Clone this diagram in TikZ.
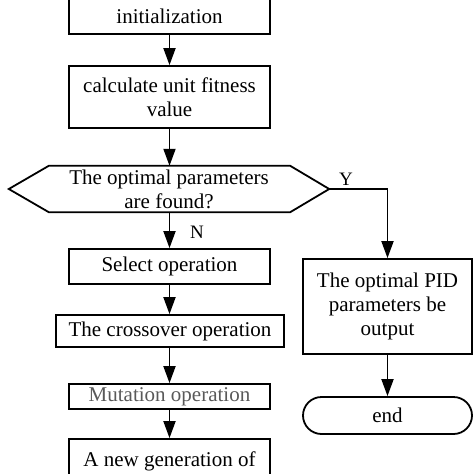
\documentclass[tikz,border=0pt]{standalone}
\usepackage{fontspec}
\setmainfont{Liberation Serif}
\usetikzlibrary{arrows.meta,shapes.misc,calc}
\begin{document}
\begin{tikzpicture}[x=1pt,y=-1pt,
  box/.style={draw,line width=1.8pt,rectangle,inner sep=0pt,align=center,
    font=\fontsize{21}{24}\selectfont},
  conn/.style={line width=1.8pt,-{Triangle[length=17pt,width=12pt]}},
  lbl/.style={font=\fontsize{19}{22}\selectfont,inner sep=0pt}]
\useasboundingbox (0,0) rectangle (474,474);
\clip (0,0) rectangle (474,474);
\node[box,minimum width=201pt,minimum height=62pt] (init) at (169.5,3) {\strut\\initialization};
\node[box,minimum width=201pt,minimum height=62pt] (calc) at (169.5,97) {calculate unit fitness\\value};
\node[inner sep=0pt,minimum width=320pt,minimum height=46pt,align=center,
  font=\fontsize{21}{24}\selectfont] (dec) at (169,189) {The optimal parameters\\are found?};
\draw[line width=1.8pt,line join=miter] (dec.west) -- ($(dec.north west)+(40,0)$) -- ($(dec.north east)+(-39,0)$)
  -- (dec.east) -- ($(dec.south east)+(-39,0)$) -- ($(dec.south west)+(40,0)$) -- cycle;
\node[box,minimum width=201pt,minimum height=35pt] (sel) at (169.5,266.5) {Select operation};
\node[box,minimum width=228pt,minimum height=32pt] (cross) at (170,331) {The crossover operation};
\node[box,minimum width=201pt,minimum height=25pt,text=black!65] (mut) at (169.5,396.5) {Mutation operation};
\node[box,minimum width=201pt,minimum height=72pt] (newgen) at (169.5,475) {A new generation of\\\strut};
\node[box,minimum width=169pt,minimum height=95pt] (pid) at (387.5,306.5) {The optimal PID\\parameters be\\output};
\node[box,rounded rectangle,minimum width=169pt,minimum height=37pt] (end) at (387.5,415.5) {end};
\coordinate (corner) at (387.5,189);
\node[lbl] (ylab) at (346,179) {Y};
\node[lbl] (nlab) at (197,232) {N};
\draw[conn] (init.south) -- (calc.north);
\draw[conn] (calc.south) -- (calc.south |- dec.north);
\draw[conn] (dec.south -| sel.north) -- (sel.north);
\draw[conn] (sel.south) -- (sel.south |- cross.north);
\draw[conn] (cross.south -| mut.north) -- (mut.north);
\draw[conn] (mut.south) -- (newgen.north);
\draw[conn] (dec.east) -- (corner) -- (pid.north);
\draw[conn] (pid.south) -- (end.north);
\end{tikzpicture}
\end{document}
